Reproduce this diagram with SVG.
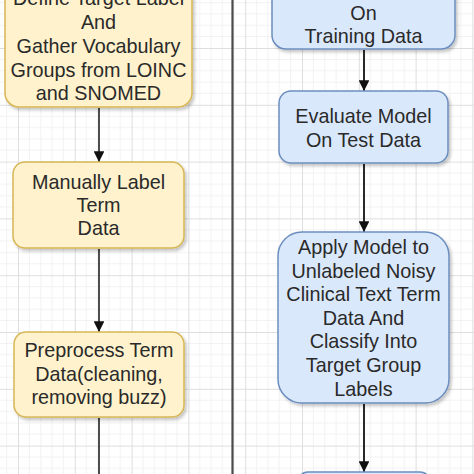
<svg xmlns="http://www.w3.org/2000/svg" width="474" height="474" viewBox="0 0 474 474">
<style>
.bg{fill:#ffffff}
.yel{fill:#fff2cc;stroke:#d6b656;stroke-width:1.5}
.blu{fill:#dae8fc;stroke:#6c8ebf;stroke-width:1.5}
.t{font-family:"Liberation Sans",Arial,sans-serif;font-size:19.8px;fill:#2a2a2a;text-anchor:middle}
.edge{fill:none;stroke-width:1.8}
.el{stroke:#3a3a3a}
.er{stroke:#111111}
.div{stroke:#4a4a4a;stroke-width:2.2}
</style>
<defs>
<pattern id="grid" x="18" y="48" width="56.8" height="56.8" patternUnits="userSpaceOnUse">
<path d="M11.36 0V56.8M22.72 0V56.8M34.08 0V56.8M45.44 0V56.8M0 11.36H56.8M0 22.72H56.8M0 34.08H56.8M0 45.44H56.8" stroke="#f2f2f2" stroke-width="1" fill="none"/>
<path d="M0.5 0V56.8M0 0.5H56.8" stroke="#dedede" stroke-width="1" fill="none"/>
</pattern>
<filter id="sh" x="-20%" y="-20%" width="140%" height="140%">
<feDropShadow dx="2" dy="2.5" stdDeviation="1.5" flood-color="#000" flood-opacity="0.22"/>
</filter>
<marker id="arr" viewBox="0 0 10 10" refX="10" refY="5" markerWidth="6" markerHeight="6" orient="auto" markerUnits="strokeWidth">
<path d="M0 0L10 5L0 10z" fill="#111"/>
</marker>
</defs>
<rect class="bg" x="0" y="0" width="474" height="474"/>
<rect x="0" y="0" width="474" height="474" fill="url(#grid)"/>
<line class="div" x1="232.5" y1="0" x2="232.5" y2="474"/>
<g id="connectors">
<line class="edge el" x1="99" y1="108" x2="99" y2="162" marker-end="url(#arr)"/>
<line class="edge el" x1="99" y1="249" x2="99" y2="332" marker-end="url(#arr)"/>
<line class="edge el" x1="99" y1="418" x2="99" y2="474"/>
<line class="edge er" x1="364" y1="50" x2="364" y2="91" marker-end="url(#arr)"/>
<line class="edge er" x1="364" y1="164" x2="364" y2="232" marker-end="url(#arr)"/>
<line class="edge er" x1="364" y1="404" x2="364" y2="472" marker-end="url(#arr)"/>
</g>
<g id="n1">
<rect class="yel" x="5" y="-60" width="187" height="167" rx="14" filter="url(#sh)"/>
<text class="t"><tspan x="98.5" y="5">Define Target Label</tspan><tspan x="98.5" y="28.5">And</tspan><tspan x="98.5" y="53">Gather Vocabulary</tspan><tspan x="98.5" y="76.5">Groups from LOINC</tspan><tspan x="98.5" y="100">and SNOMED</tspan></text>
</g>
<g id="n2">
<rect class="yel" x="13" y="162" width="171" height="86" rx="12" filter="url(#sh)"/>
<text class="t"><tspan x="98.5" y="189">Manually Label</tspan><tspan x="98.5" y="212">Term</tspan><tspan x="98.5" y="235">Data</tspan></text>
</g>
<g id="n3">
<rect class="yel" x="14" y="332" width="170" height="85" rx="12" filter="url(#sh)"/>
<text class="t"><tspan x="99" y="357">Preprocess Term</tspan><tspan x="99" y="380.5">Data(cleaning,</tspan><tspan x="99" y="404">removing buzz)</tspan></text>
</g>
<g id="n4">
<rect class="blu" x="272" y="-30" width="183" height="79" rx="14" filter="url(#sh)"/>
<text class="t"><tspan x="363.5" y="20">On</tspan><tspan x="363.5" y="43">Training Data</tspan></text>
</g>
<g id="n5">
<rect class="blu" x="279" y="91" width="169" height="72" rx="12" filter="url(#sh)"/>
<text class="t"><tspan x="363.5" y="123">Evaluate Model</tspan><tspan x="363.5" y="146.5">On Test Data</tspan></text>
</g>
<g id="n6">
<rect class="blu" x="278" y="232" width="171" height="171" rx="24" filter="url(#sh)"/>
<text class="t"><tspan x="363.5" y="254">Apply Model to</tspan><tspan x="363.5" y="277.6">Unlabeled Noisy</tspan><tspan x="363.5" y="301.2">Clinical Text Term</tspan><tspan x="363.5" y="324.8">Data And</tspan><tspan x="363.5" y="348.4">Classify Into</tspan><tspan x="363.5" y="372">Target Group</tspan><tspan x="363.5" y="395.6">Labels</tspan></text>
</g>
<g id="n7">
<rect class="blu" x="298" y="472" width="132" height="40" rx="10" filter="url(#sh)"/>
</g>
</svg>
